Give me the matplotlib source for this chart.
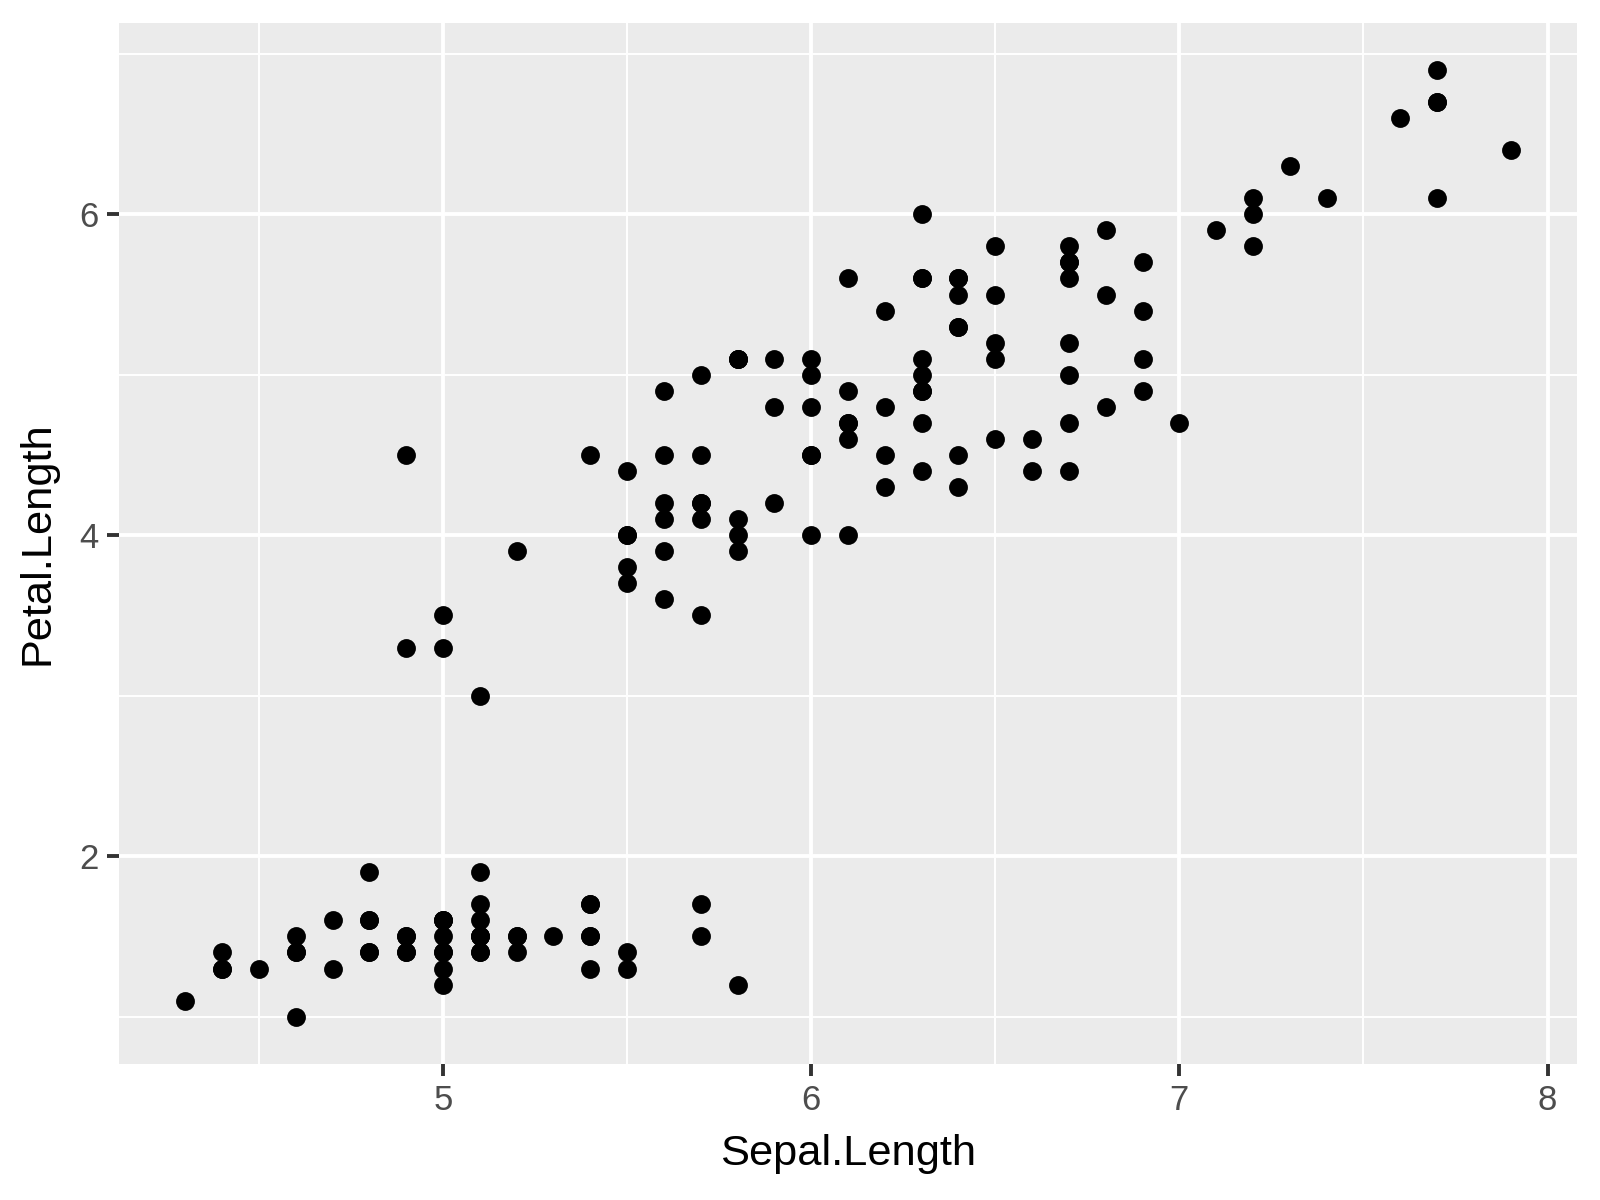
import matplotlib
matplotlib.use("Agg")
import matplotlib.pyplot as plt
from matplotlib.ticker import MultipleLocator

# iris: Sepal.Length vs Petal.Length
sepal_length = [
    5.1, 4.9, 4.7, 4.6, 5.0, 5.4, 4.6, 5.0, 4.4, 4.9, 5.4, 4.8, 4.8, 4.3, 5.8, 5.7, 5.4, 5.1, 5.7, 5.1,
    5.4, 5.1, 4.6, 5.1, 4.8, 5.0, 5.0, 5.2, 5.2, 4.7, 4.8, 5.4, 5.2, 5.5, 4.9, 5.0, 5.5, 4.9, 4.4, 5.1,
    5.0, 4.5, 4.4, 5.0, 5.1, 4.8, 5.1, 4.6, 5.3, 5.0,
    7.0, 6.4, 6.9, 5.5, 6.5, 5.7, 6.3, 4.9, 6.6, 5.2, 5.0, 5.9, 6.0, 6.1, 5.6, 6.7, 5.6, 5.8, 6.2, 5.6,
    5.9, 6.1, 6.3, 6.1, 6.4, 6.6, 6.8, 6.7, 6.0, 5.7, 5.5, 5.5, 5.8, 6.0, 5.4, 6.0, 6.7, 6.3, 5.6, 5.5,
    5.5, 6.1, 5.8, 5.0, 5.6, 5.7, 5.7, 6.2, 5.1, 5.7,
    6.3, 5.8, 7.1, 6.3, 6.5, 7.6, 4.9, 7.3, 6.7, 7.2, 6.5, 6.4, 6.8, 5.7, 5.8, 6.4, 6.5, 7.7, 7.7, 6.0,
    6.9, 5.6, 7.7, 6.3, 6.7, 7.2, 6.2, 6.1, 6.4, 7.2, 7.4, 7.9, 6.4, 6.3, 6.1, 7.7, 6.3, 6.4, 6.0, 6.9,
    6.7, 6.9, 5.8, 6.8, 6.7, 6.7, 6.3, 6.5, 6.2, 5.9,
]
petal_length = [
    1.4, 1.4, 1.3, 1.5, 1.4, 1.7, 1.4, 1.5, 1.4, 1.5, 1.5, 1.6, 1.4, 1.1, 1.2, 1.5, 1.3, 1.4, 1.7, 1.5,
    1.7, 1.5, 1.0, 1.7, 1.9, 1.6, 1.6, 1.5, 1.4, 1.6, 1.6, 1.5, 1.5, 1.4, 1.5, 1.2, 1.3, 1.4, 1.3, 1.5,
    1.3, 1.3, 1.3, 1.6, 1.9, 1.4, 1.6, 1.4, 1.5, 1.4,
    4.7, 4.5, 4.9, 4.0, 4.6, 4.5, 4.7, 3.3, 4.6, 3.9, 3.5, 4.2, 4.0, 4.7, 3.6, 4.4, 4.5, 4.1, 4.5, 3.9,
    4.8, 4.0, 4.9, 4.7, 4.3, 4.4, 4.8, 5.0, 4.5, 3.5, 3.8, 3.7, 3.9, 5.1, 4.5, 4.5, 4.7, 4.4, 4.1, 4.0,
    4.4, 4.6, 4.0, 3.3, 4.2, 4.2, 4.2, 4.3, 3.0, 4.1,
    6.0, 5.1, 5.9, 5.6, 5.8, 6.6, 4.5, 6.3, 5.8, 6.1, 5.1, 5.3, 5.5, 5.0, 5.1, 5.3, 5.5, 6.7, 6.9, 5.0,
    5.7, 4.9, 6.7, 4.9, 5.7, 6.0, 4.8, 4.9, 5.6, 5.8, 6.1, 6.4, 5.6, 5.1, 5.6, 6.1, 5.6, 5.5, 4.8, 5.4,
    5.6, 5.1, 5.1, 5.9, 5.7, 5.2, 5.0, 5.2, 5.4, 5.1,
]

plt.rcParams["font.family"] = ["Liberation Sans", "DejaVu Sans"]

fig = plt.figure(figsize=(8, 6), dpi=200)
ax = fig.add_axes([119 / 1600, 1 - 1064 / 1200, (1577 - 119) / 1600, (1064 - 22.5) / 1200])
ax.set_facecolor("#EBEBEB")

ax.scatter(sepal_length, petal_length, s=46, color="black", linewidths=0, zorder=3)

xmin, xmax = min(sepal_length), max(sepal_length)
ymin, ymax = min(petal_length), max(petal_length)
ax.set_xlim(xmin - 0.05 * (xmax - xmin), xmax + 0.05 * (xmax - xmin))
ax.set_ylim(ymin - 0.05 * (ymax - ymin), ymax + 0.05 * (ymax - ymin))

ax.xaxis.set_major_locator(MultipleLocator(1))
ax.xaxis.set_minor_locator(MultipleLocator(0.5))
ax.yaxis.set_major_locator(MultipleLocator(2))
ax.yaxis.set_minor_locator(MultipleLocator(1))

ax.grid(which="major", color="white", linewidth=1.4)
ax.grid(which="minor", color="white", linewidth=0.7)
ax.set_axisbelow(True)

for s in ax.spines.values():
    s.set_visible(False)

ax.tick_params(which="major", length=4.3, width=1.4, color="#333333",
               labelsize=12.5, labelcolor="#4D4D4D", pad=3)
ax.tick_params(which="minor", length=0)

ax.set_xlabel("Sepal.Length", fontsize=15.6, color="black", labelpad=6)
ax.set_ylabel("Petal.Length", fontsize=15.6, color="black", labelpad=8)

fig.savefig("out.png", dpi=200)
